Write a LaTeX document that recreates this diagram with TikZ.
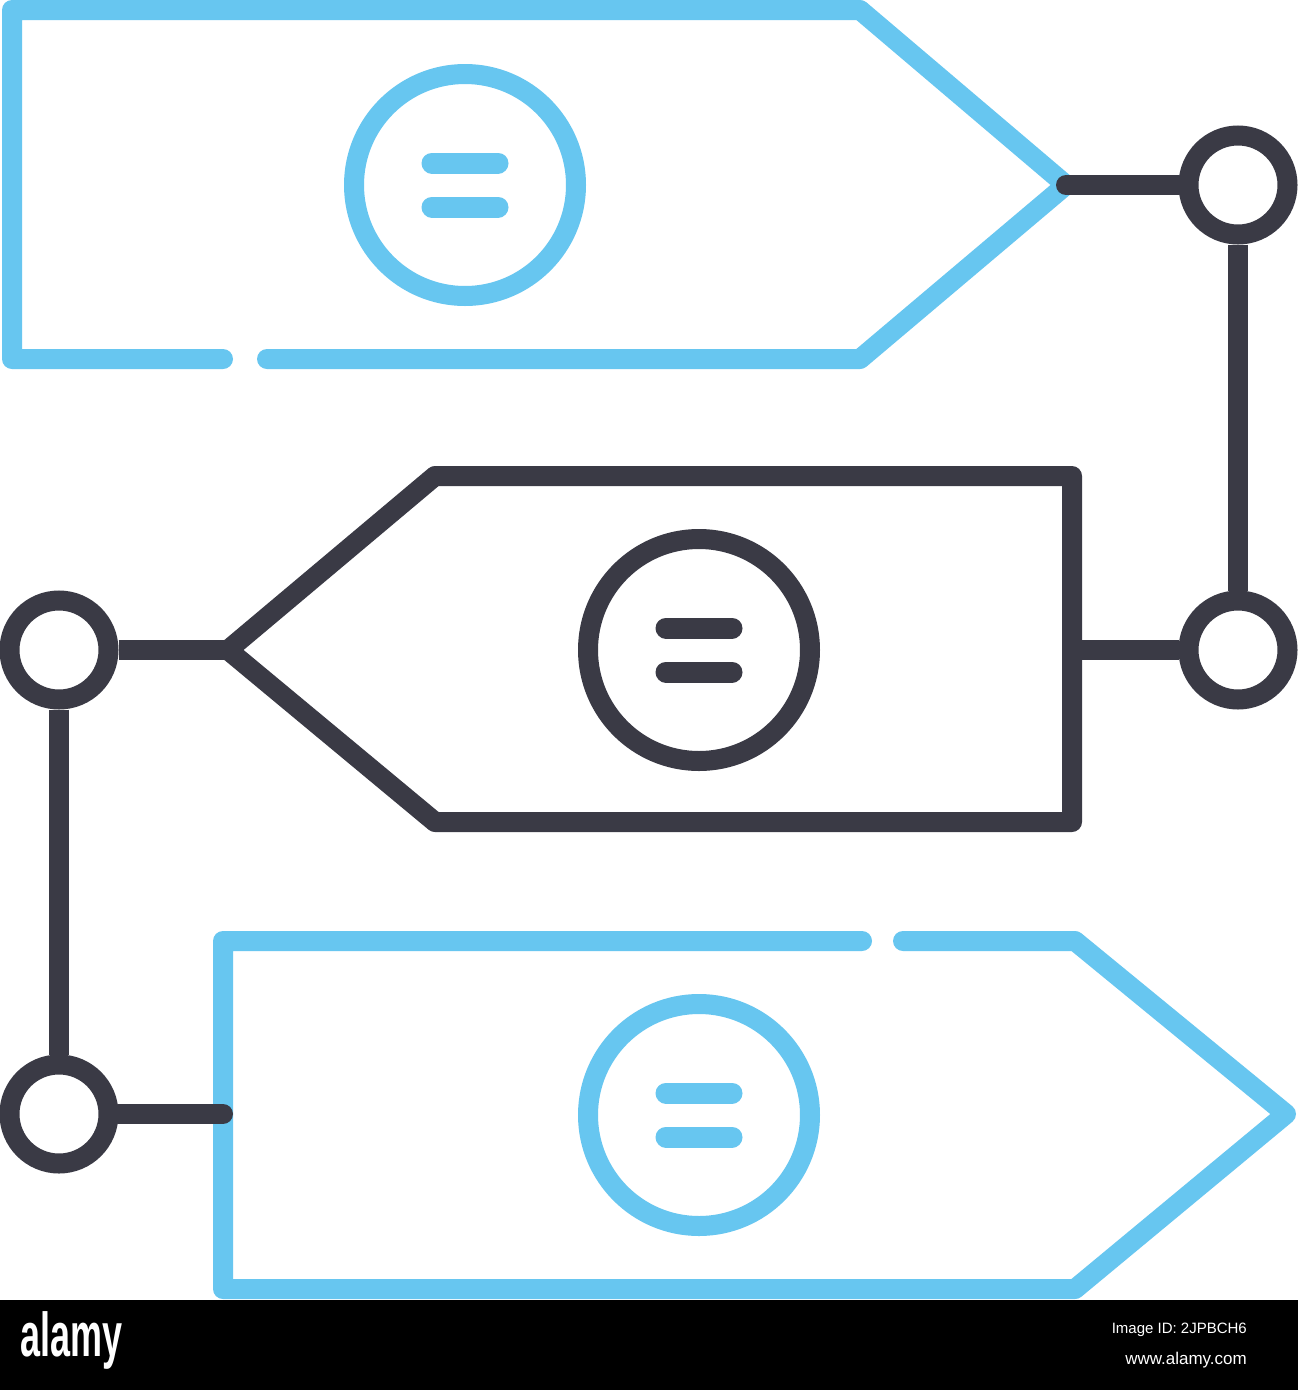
\documentclass[tikz,border=0pt]{standalone}
\usepackage{fontspec}
\setmainfont{Liberation Sans}
\definecolor{cblue}{HTML}{67C6F0}
\definecolor{cdark}{HTML}{3A3A45}
\begin{document}
\begin{tikzpicture}[x=1pt,y=-1pt,
  stroke/.style={line width=20pt,line cap=round,line join=round},
  bluestroke/.style={stroke,draw=cblue},
  darkstroke/.style={stroke,draw=cdark},
  joint/.style={circle,draw=cdark,line width=20pt,minimum size=99pt,inner sep=0pt},
  badge/.style={circle,line width=20pt,minimum size=222pt,inner sep=0pt},
  bar/.style={line width=21pt,line cap=round}]
\useasboundingbox (0,0) rectangle (1298,1390);
\fill[white] (0,0) rectangle (1298,1300);
% top box (blue)
\draw[bluestroke] (267,359) -- (860,359) -- (1066,185) -- (860,10) -- (12,10) -- (12,359) -- (223,359);
\coordinate (t1) at (1066,185);
\node[badge,draw=cblue] (b1) at (465,185) {};
\draw[bar,cblue] (432,163) -- (498,163) (432,207) -- (498,207);
% middle box (dark)
\draw[darkstroke] (435,476) -- (1072,476) -- (1072,822) -- (435,822) -- (228,650) -- cycle;
\coordinate (t2) at (228,650);
\coordinate (r2) at (1072,650);
\node[badge,draw=cdark] (b2) at (699,650) {};
\draw[bar,cdark] (666,628) -- (732,628) (666,672) -- (732,672);
% bottom box (blue)
\draw[bluestroke] (903,941) -- (1075,941) -- (1286,1114) -- (1075,1289) -- (223,1289) -- (223,941) -- (862,941);
\coordinate (l3) at (223,1114);
\node[badge,draw=cblue] (b3) at (699,1115) {};
\draw[bar,cblue] (666,1093) -- (732,1093) (666,1137) -- (732,1137);
% joints
\node[joint] (j1) at (1238,185) {};
\node[joint] (j2) at (1238,650) {};
\node[joint] (j3) at (59,650) {};
\node[joint] (j4) at (59,1114) {};
\draw[darkstroke] (t1) -- (j1.west);
\draw[darkstroke,line cap=butt] (j1.south) -- (j2.north);
\draw[darkstroke,line cap=butt] (r2) -- (j2.west);
\draw[darkstroke,line cap=butt] (j3.east) -- (t2);
\draw[darkstroke,line cap=butt] (j3.south) -- (j4.north);
\draw[darkstroke] (j4.east) -- (l3);
% footer
\fill[black] (0,1300) rectangle (1298,1390);
\node[text=white,font=\fontsize{62}{66}\selectfont\bfseries,anchor=west,inner sep=0pt,xscale=0.58,transform shape] (logo) at (20,1340) {alamy};
\node[text=white,font=\fontsize{15}{18}\selectfont,anchor=east,inner sep=0pt] (iid) at (1247,1330) {Image ID: 2JPBCH6};
\node[text=white,font=\fontsize{17}{20}\selectfont,anchor=east,inner sep=0pt] (www) at (1247,1360) {www.alamy.com};
\end{tikzpicture}
\end{document}
